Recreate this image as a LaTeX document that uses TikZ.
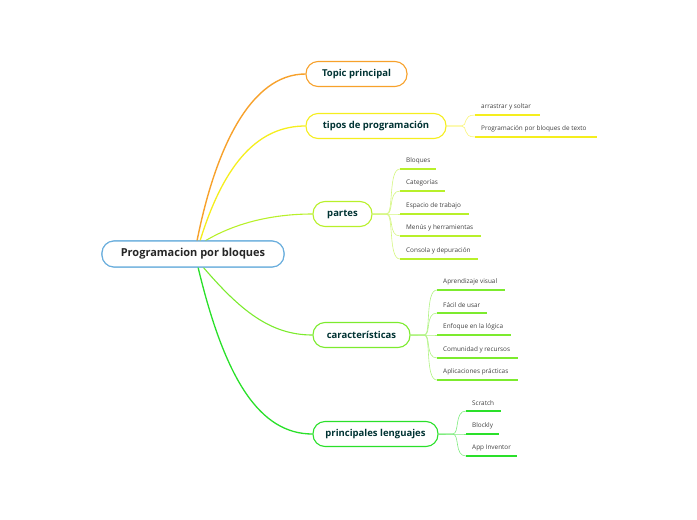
\documentclass[tikz,border=0pt]{standalone}
\usepackage{fontspec}
\setmainfont{Open Sans}
\begin{document}
\begin{tikzpicture}[x=1pt,y=-1pt,
 main/.style={draw=#1,line width=1.1pt,rounded corners=12pt,fill=white,minimum height=25pt,font=\fontsize{9.5}{11}\selectfont\bfseries,text=teal!40!black,inner sep=0pt},
 leaf/.style={anchor=south west,font=\fontsize{6.4}{7}\selectfont,text=black!75,inner sep=0pt},
 ul/.style={draw=#1,line width=1.2pt},
 br/.style={draw=#1!60,line width=0.6pt}]
\definecolor{cO}{HTML}{F7A12B}\definecolor{cY}{HTML}{F5EE1E}\definecolor{cP}{HTML}{B8F02A}
\definecolor{cC}{HTML}{7CEB2E}\definecolor{cL}{HTML}{2AE02A}\definecolor{cB}{HTML}{6AAEDD}
\useasboundingbox (0,0) rectangle (697,520);
\node[main=cB,minimum width=182pt,minimum height=26pt,font=\fontsize{11}{13}\selectfont\bfseries,text=black!85] (root) at (193,254) {Programacion por bloques};
\node[main=cO,minimum width=101pt] (t) at (356.5,74) {Topic principal};
\node[main=cY,minimum width=140pt] (tp) at (376,126) {tipos de programación};
\node[main=cP,minimum width=59pt] (pa) at (342.5,214) {partes};
\node[main=cC,minimum width=97pt] (ca) at (361.5,335) {características};
\node[main=cL,minimum width=125pt] (pl) at (375.5,434) {principales lenguajes};
\draw[cO,line width=1.4pt] (197,241) .. controls (215,150) and (250,74) .. (t.west);
\draw[cY,line width=1.3pt] (200,241) .. controls (225,160) and (260,126) .. (tp.west);
\draw[cP,line width=1.1pt] (205,241) .. controls (240,220) and (280,214) .. (pa.west);
\draw[cC,line width=1.1pt] (203,267) .. controls (240,310) and (270,335) .. (ca.west);
\draw[cL,line width=1.3pt] (198,267) .. controls (225,380) and (260,434) .. (pl.west);
\node[main=cB,minimum width=182pt,minimum height=26pt,font=\fontsize{11}{13}\selectfont\bfseries,text=black!85] (root2) at (193,254) {Programacion por bloques};
\foreach \y/\e/\t [count=\i] in {115/540/arrastrar y soltar,137/597/Programación por bloques de texto}{
 \draw[br=cY] (tp.east) -- ++(15,0) .. controls (468,126) and (462,\y) .. (475,\y);
 \draw[ul=cY] (475,\y) -- (\e,\y);
 \node[leaf] (tp\i) at (481,\y-5) {\t};}
\foreach \y/\e/\t [count=\i] in {169/436/Bloques,191/445/Categorías,214/469/Espacio de trabajo,236/481/Menús y herramientas,259/478/Consola y depuración}{
 \draw[br=cP] (pa.east) -- ++(14,0) .. controls (394,214) and (388,\y) .. (400,\y);
 \draw[ul=cP] (400,\y) -- (\e,\y);
 \node[leaf] (pa\i) at (406,\y-5) {\t};}
\foreach \y/\e/\t [count=\i] in {290/505/Aprendizaje visual,313/487/Fácil de usar,335/511/Enfoque en la lógica,358/518/Comunidad y recursos,380/518/Aplicaciones prácticas}{
 \draw[br=cC] (ca.east) -- ++(14,0) .. controls (431,335) and (425,\y) .. (437,\y);
 \draw[ul=cC] (437,\y) -- (\e,\y);
 \node[leaf] (ca\i) at (443,\y-5) {\t};}
\foreach \y/\e/\t [count=\i] in {411/501/Scratch,434/499/Blockly,456/517/App Inventor}{
 \draw[br=cL] (pl.east) -- ++(14,0) .. controls (460,434) and (454,\y) .. (466,\y);
 \draw[ul=cL] (466,\y) -- (\e,\y);
 \node[leaf] (pl\i) at (472,\y-5) {\t};}
\end{tikzpicture}
\end{document}
